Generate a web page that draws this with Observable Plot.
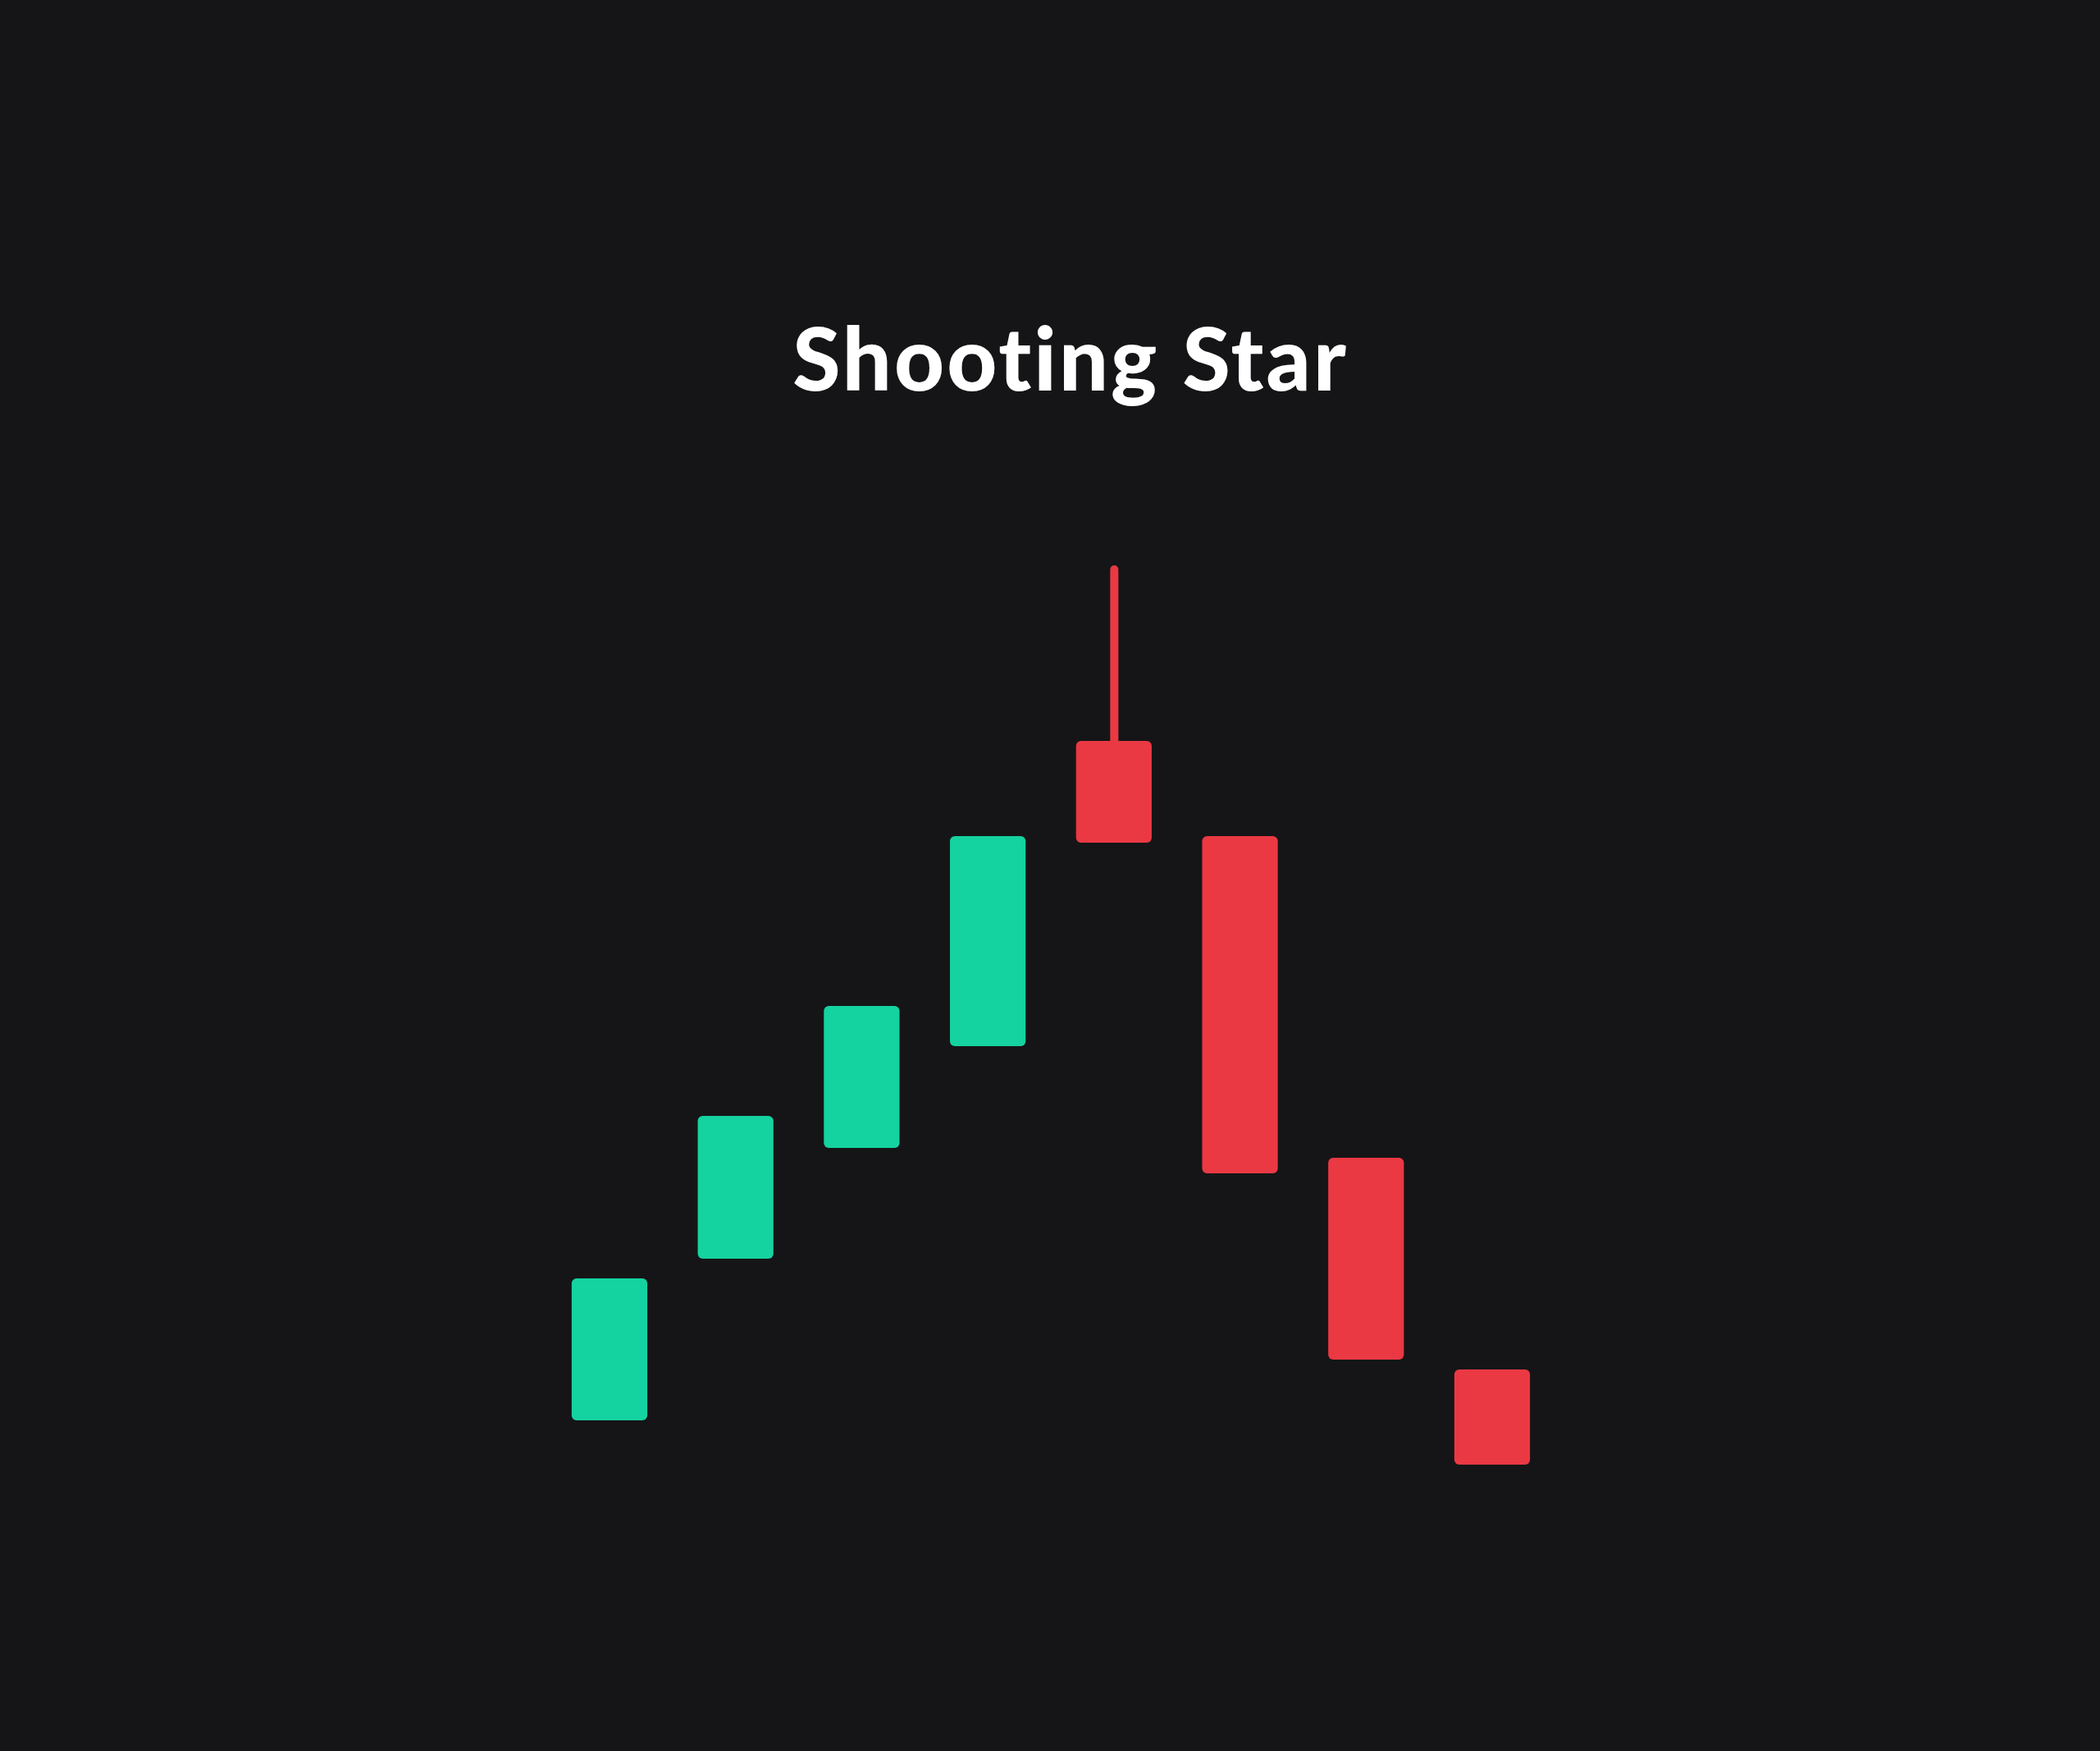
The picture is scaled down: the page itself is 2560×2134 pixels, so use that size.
<!DOCTYPE html>
<html>
<head>
<meta charset="utf-8">
<script src="https://cdn.jsdelivr.net/npm/d3@7"></script>
<script src="https://cdn.jsdelivr.net/npm/@observablehq/plot@0.6"></script>
<style>
  html, body { margin: 0; padding: 0; background: #151517; }
  #wrap { position: relative; width: 2560px; height: 2134px; overflow: hidden; }
  #title {
    position: absolute; left: 25px; top: 382px; width: 2560px;
    text-align: center; color: #ffffff;
    font-family: Lato, "Noto Sans", sans-serif; font-weight: 900;
    font-size: 106px; line-height: 1; letter-spacing: 3px;
  }
  #chart { position: absolute; left: 0; top: 0; }
</style>
</head>
<body>
<div id="wrap">
  <div id="chart"></div>
  <div id="title">Shooting Star</div>
</div>
<script>
const candles = [1, 2, 3, 4, 5, 6, 7, 8];
const openV  = [6.9, 26.6, 40.1, 52.5, 89.7, 78.1, 38.9, 13.1];
const closeV = [24.2, 44.0, 57.4, 78.1, 77.3, 37.0, 14.3, 1.5];
const highV  = [24.2, 44.0, 57.4, 78.1, 110.6, 78.1, 38.9, 13.1];
const lowV   = [6.9, 26.6, 40.1, 52.5, 77.3, 37.0, 14.3, 1.5];

const green = "#14d3a0";
const red = "#ea3943";

const data = candles.map((c, k) => ({
  i: c,
  open: openV[k],
  close: closeV[k],
  high: highV[k],
  low: lowV[k],
  dir: closeV[k] >= openV[k] ? "up" : "down"
}));

const wicks = data.filter(d => d.high > Math.max(d.open, d.close));

const chart = Plot.plot({
  width: 2560,
  height: 2134,
  marginLeft: 743,
  marginRight: 741,
  marginTop: 600,
  marginBottom: 334,
  x: { domain: [1, 8], axis: null },
  y: { domain: [0, 120], axis: null },
  color: { domain: ["up", "down"], range: [green, red] },
  style: { background: "transparent", overflow: "visible" },
  marks: [
    Plot.ruleX(wicks, {
      x: "i",
      y1: d => Math.max(d.open, d.close) - 1,
      y2: "high",
      stroke: "dir",
      strokeWidth: 10,
      strokeLinecap: "round"
    }),
    Plot.rect(data, {
      x1: d => d.i - 0.3,
      x2: d => d.i + 0.3,
      y1: "open",
      y2: "close",
      fill: "dir",
      rx: 6
    })
  ]
});
document.getElementById("chart").appendChild(chart);
</script>
</body>
</html>
